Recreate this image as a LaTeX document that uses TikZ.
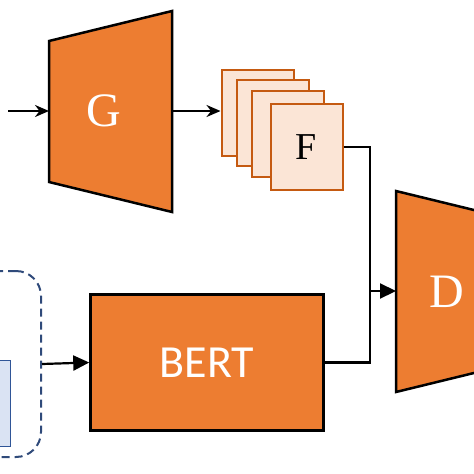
\documentclass[tikz,border=0pt]{standalone}
\usepackage{fontspec}
\setmainfont{Liberation Serif}
\newfontfamily\bertfont{Carlito}
\usetikzlibrary{arrows.meta}
\definecolor{netorange}{HTML}{ED7D31}
\definecolor{featfill}{HTML}{FBE5D6}
\definecolor{featline}{HTML}{C55A11}
\definecolor{inputline}{HTML}{2F4A7A}
\definecolor{tokfill}{HTML}{DAE3F3}
\definecolor{tokline}{HTML}{2F5597}

\begin{document}
\begin{tikzpicture}[x=1pt,y=-1pt,
    net/.style={fill=netorange,draw=black,line width=2.5pt,line join=miter},
    feat/.style={fill=featfill,draw=featline,line width=2pt,minimum width=72pt,minimum height=86pt,inner sep=0pt},
    link/.style={line width=2.2pt},
    letter/.style={font=\fontsize{48}{50}\selectfont}]
	  \clip (0,0) rectangle (474,474);
	  % Generator
	  \draw [net] (49,41) -- (172,11) -- (172,212) -- (49,182) -- cycle;
	  \node [letter, text=white] (G) at (104,111) {G};
	  \coordinate (Gin) at (49,111);
	  \coordinate (Gout) at (172,111);
	  \coordinate (src) at (8,111);
	  % Feature maps
	  \node [feat] (f1) at (257.5,113) {};
	  \node [feat] (f2) at (273,123) {};
	  \node [feat] (f3) at (288,134) {};
	  \node [feat, font=\fontsize{38}{40}\selectfont] (f4) at (306.5,147) {F};
	  % Text input
	  \node [draw=inputline, line width=2pt, dash pattern=on 8pt off 5pt, rounded corners=25pt,
	    minimum width=80pt, minimum height=186pt] (input) at (1,364) {};
	  \node [draw=tokline, fill=tokfill, line width=1.5pt, minimum width=30pt, minimum height=86pt] (tok) at (-4.5,403.5) {};
	  \node [net, minimum width=233pt, minimum height=136pt, text=white,
	    font=\bertfont\fontsize{46}{48}\selectfont] (bert) at (207,362.5) {BERT};
	  % Discriminator
	  \draw [net] (396,191) -- (519,221) -- (519,362) -- (396,392) -- cycle;
	  \node [letter, text=white] (D) at (447,292) {D};
	  \coordinate (Din) at (396,291);
	  \coordinate (join) at (370,291);
	  % Connectors
	  \draw [link, -{Stealth[length=14pt,width=12pt]}] (src) -- (Gin);
	  \draw [link, -{Stealth[length=14pt,width=12pt]}] (Gout) -- (Gout -| f1.west);
	  \draw [link] (f4.east) -| (join);
	  \draw [link] (bert.east) -| (join);
	  \draw [link, -{Triangle[length=16pt,width=15pt]}] (join) -- (Din);
	  \draw [link, -{Triangle[length=16pt,width=15pt]}] (input.east) -- (bert.west);
\end{tikzpicture}
\end{document}
